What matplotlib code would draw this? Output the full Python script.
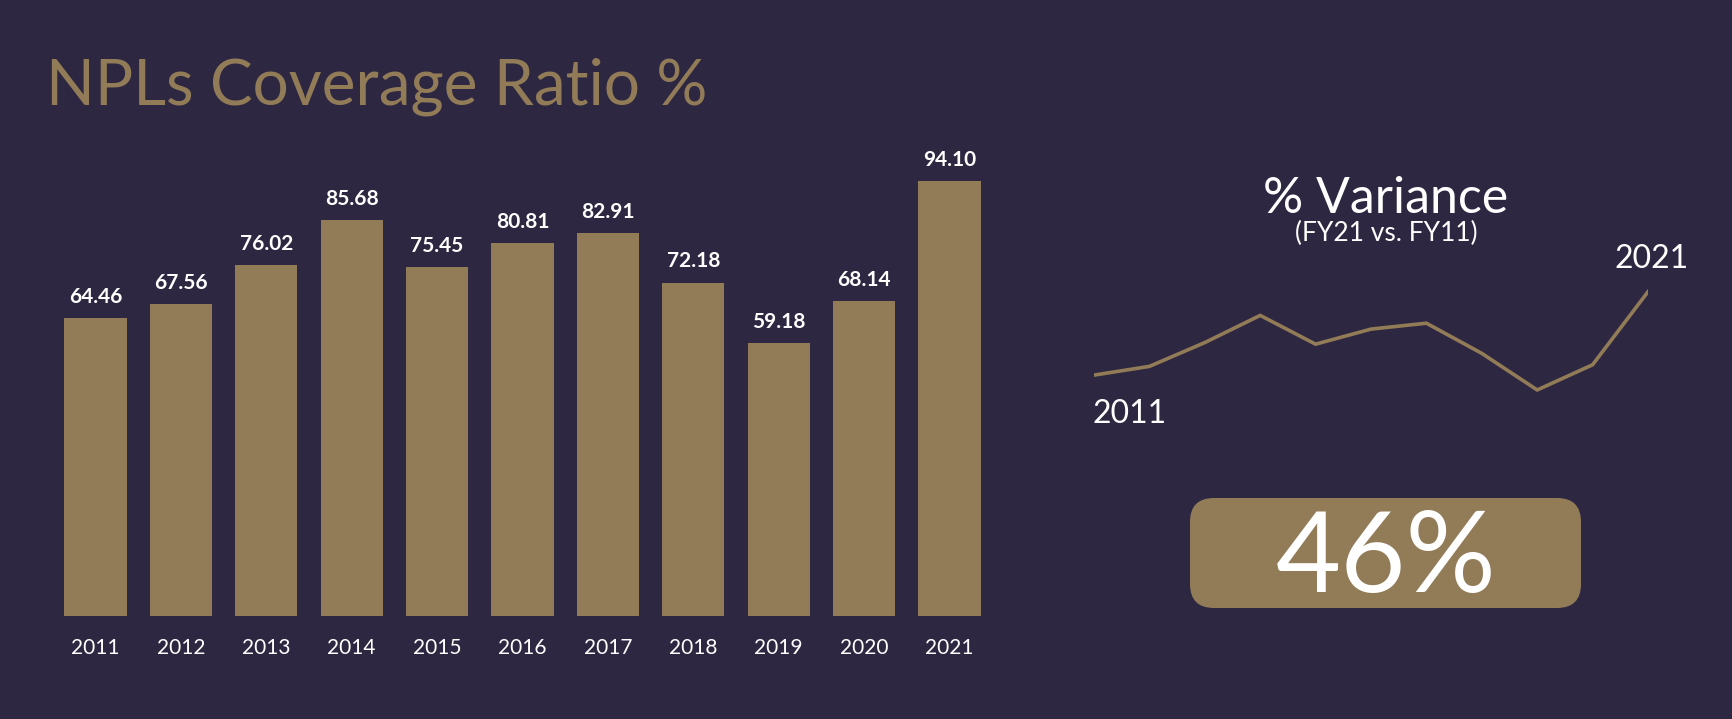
import matplotlib
matplotlib.use('Agg')
import matplotlib.pyplot as plt
from matplotlib.patches import FancyBboxPatch

# Data
years = [2011, 2012, 2013, 2014, 2015, 2016, 2017, 2018, 2019, 2020, 2021]
coverage = [64.46, 67.56, 76.02, 85.68, 75.45, 80.81, 82.91, 72.18, 59.18, 68.14, 94.10]
variance_label = '46%'

BG = '#2E2741'
GOLD = '#927C58'
W, H = 1733, 719

plt.rcParams['font.family'] = ['Lato', 'DejaVu Sans']

fig = plt.figure(figsize=(W / 100, H / 100), dpi=100, facecolor=BG)

def px(x, y):
    # pixel (from top-left) to figure fraction
    return x / W, (H - y) / H

# Title
fig.text(*px(46, 105), 'NPLs Coverage Ratio %', color=GOLD, fontsize=46,
         fontweight='normal', va='baseline', ha='left')

# Bar chart
pitch = 85.4
left = 95.5 - pitch / 2
ax = fig.add_axes([left / W, (H - 616) / H, pitch * 11 / W, 462 / H])
ax.set_facecolor(BG)
x = list(range(len(years)))
bars = ax.bar(x, coverage, width=0.73, color=GOLD)
ax.set_xlim(-0.5, 10.5)
ax.set_ylim(0, 100)
for xi, v in zip(x, coverage):
    ax.text(xi, v + 2.4, '{0:.2f}'.format(v), ha='center', va='bottom',
            color='white', fontsize=15, fontweight='bold')
ax.set_xticks(x)
ax.set_xticklabels([str(y) for y in years], color='white', fontsize=15)
ax.tick_params(axis='x', length=0, pad=16)
ax.set_yticks([])
for s in ax.spines.values():
    s.set_visible(False)

# Variance sparkline
ax2 = fig.add_axes([1094 / W, (H - 415.8) / H, (1648 - 1094) / W, (415.8 - 275.1) / H])
ax2.set_facecolor('none')
ax2.plot(years, coverage, color=GOLD, linewidth=2.6, solid_joinstyle='miter')
ax2.set_xlim(2011, 2021)
ax2.set_ylim(50, 100)
ax2.axis('off')

fig.text(*px(1386, 213), '% Variance', color='white', fontsize=36,
         ha='center', va='baseline')
fig.text(*px(1386, 241), '(FY21 vs. FY11)', color='white', fontsize=19,
         ha='center', va='baseline')
fig.text(*px(1130, 423), str(years[0]), color='white', fontsize=23,
         ha='center', va='baseline')
fig.text(*px(1652, 268), str(years[-1]), color='white', fontsize=23,
         ha='center', va='baseline')

# Rounded box with variance
bx0, by0 = px(1190, 608)
bx1, by1 = px(1581, 498)
box = FancyBboxPatch((bx0, by0), bx1 - bx0, by1 - by0,
                     boxstyle='round,pad=0,rounding_size={0}'.format(24 / W),
                     transform=fig.transFigure, facecolor=GOLD, edgecolor='none',
                     mutation_aspect=W / H)
fig.patches.append(box)
fig.text(*px(1386, 592), variance_label, color='white', fontsize=81,
         ha='center', va='baseline')

fig.savefig('out.png', dpi=100, facecolor=BG)
